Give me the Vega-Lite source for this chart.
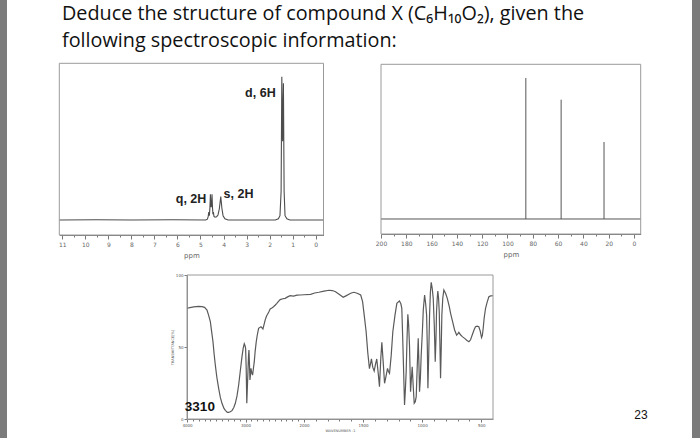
{
  "$schema": "https://vega.github.io/schema/vega-lite/v6.json",
  "width": 685,
  "height": 438,
  "autosize": {"type": "none"},
  "padding": {"left": 7, "right": 8, "top": 0, "bottom": 0},
  "background": "#7b7b7b",
  "config": {"view": {"fill": "white", "stroke": null}, "axis": {"grid": false}},
  "title": {
    "text": ["Deduce the structure of compound X (C₆H₁₀O₂), given the", "following spectroscopic information:"],
    "anchor": "start",
    "frame": "group",
    "orient": "top",
    "offset": -50.5,
    "dx": 55,
    "font": "Open Sans",
    "fontSize": 19.8,
    "fontWeight": "normal",
    "color": "#111111",
    "lineHeight": 27.2
  },
  "datasets": {
    "h1": [
      {"ppm": 11.13, "intensity": 0}, {"ppm": 9.5, "intensity": 0.2}, {"ppm": 8, "intensity": 0}, {"ppm": 6.2, "intensity": 0.2},
      {"ppm": 4.78, "intensity": 0}, {"ppm": 4.7, "intensity": 0.6}, {"ppm": 4.665, "intensity": 2.5}, {"ppm": 4.64, "intensity": 5.5},
      {"ppm": 4.615, "intensity": 3}, {"ppm": 4.59, "intensity": 9}, {"ppm": 4.57, "intensity": 17.9}, {"ppm": 4.55, "intensity": 10},
      {"ppm": 4.535, "intensity": 9}, {"ppm": 4.515, "intensity": 12}, {"ppm": 4.5, "intensity": 17.9}, {"ppm": 4.48, "intensity": 9},
      {"ppm": 4.46, "intensity": 4}, {"ppm": 4.44, "intensity": 5.5}, {"ppm": 4.415, "intensity": 2.5}, {"ppm": 4.37, "intensity": 2},
      {"ppm": 4.3, "intensity": 2.3}, {"ppm": 4.24, "intensity": 3.5}, {"ppm": 4.18, "intensity": 8}, {"ppm": 4.12, "intensity": 16.3},
      {"ppm": 4.07, "intensity": 8}, {"ppm": 4.02, "intensity": 3}, {"ppm": 3.94, "intensity": 0.8}, {"ppm": 3.8, "intensity": 0},
      {"ppm": 1.75, "intensity": 0}, {"ppm": 1.62, "intensity": 0.8}, {"ppm": 1.55, "intensity": 3}, {"ppm": 1.5, "intensity": 20},
      {"ppm": 1.47, "intensity": 100}, {"ppm": 1.435, "intensity": 55}, {"ppm": 1.4, "intensity": 95.4}, {"ppm": 1.37, "intensity": 20},
      {"ppm": 1.33, "intensity": 3}, {"ppm": 1.25, "intensity": 0.8}, {"ppm": 1.12, "intensity": 0}, {"ppm": -0.34, "intensity": 0}
    ],
    "h1labels": [
      {"label": "d, 6H", "ppm": 2.4, "intensity": 88.6},
      {"label": "q, 2H", "ppm": 5.41, "intensity": 14.7},
      {"label": "s, 2H", "ppm": 3.35, "intensity": 17.8}
    ],
    "c13": [
      {"ppm": 85.5, "intensity": 100},
      {"ppm": 57.6, "intensity": 84.6},
      {"ppm": 23.7, "intensity": 54.6}
    ],
    "ir": [
      {"wn": 4000, "T": 76.9}, {"wn": 3950, "T": 77.3}, {"wn": 3886, "T": 77.8}, {"wn": 3800, "T": 78.2}, {"wn": 3744, "T": 78},
      {"wn": 3700, "T": 77.5}, {"wn": 3658, "T": 75.7}, {"wn": 3630, "T": 72}, {"wn": 3601, "T": 67.6}, {"wn": 3580, "T": 61},
      {"wn": 3556, "T": 53.7}, {"wn": 3536, "T": 45}, {"wn": 3516, "T": 37.5}, {"wn": 3490, "T": 29}, {"wn": 3459, "T": 21.3},
      {"wn": 3430, "T": 15}, {"wn": 3402, "T": 10.9}, {"wn": 3370, "T": 7.5}, {"wn": 3345, "T": 6}, {"wn": 3310, "T": 4.6},
      {"wn": 3288, "T": 4.6}, {"wn": 3260, "T": 5}, {"wn": 3231, "T": 5.8}, {"wn": 3200, "T": 8}, {"wn": 3174, "T": 10.9},
      {"wn": 3145, "T": 16}, {"wn": 3117, "T": 23.6}, {"wn": 3090, "T": 33}, {"wn": 3060, "T": 43.3}, {"wn": 3040, "T": 49},
      {"wn": 3021, "T": 52.3}, {"wn": 3008, "T": 51}, {"wn": 2998, "T": 49}, {"wn": 2988, "T": 35}, {"wn": 2978, "T": 11},
      {"wn": 2970, "T": 20}, {"wn": 2958, "T": 33}, {"wn": 2948, "T": 44}, {"wn": 2941, "T": 47.9}, {"wn": 2932, "T": 38},
      {"wn": 2924, "T": 27.1}, {"wn": 2915, "T": 31}, {"wn": 2907, "T": 35.2}, {"wn": 2893, "T": 32}, {"wn": 2879, "T": 30.5},
      {"wn": 2868, "T": 34}, {"wn": 2850, "T": 39.8}, {"wn": 2835, "T": 47}, {"wn": 2816, "T": 53.7}, {"wn": 2800, "T": 58},
      {"wn": 2776, "T": 63}, {"wn": 2736, "T": 64.1}, {"wn": 2702, "T": 62.5}, {"wn": 2680, "T": 66}, {"wn": 2663, "T": 68.8},
      {"wn": 2640, "T": 71.5}, {"wn": 2623, "T": 72.7}, {"wn": 2600, "T": 74.5}, {"wn": 2578, "T": 76.4}, {"wn": 2550, "T": 77},
      {"wn": 2521, "T": 78}, {"wn": 2490, "T": 79.2}, {"wn": 2464, "T": 80.3}, {"wn": 2440, "T": 81.5}, {"wn": 2407, "T": 82.9},
      {"wn": 2360, "T": 83.5}, {"wn": 2322, "T": 83.8}, {"wn": 2280, "T": 84.8}, {"wn": 2236, "T": 85.6}, {"wn": 2180, "T": 85.4},
      {"wn": 2120, "T": 86}, {"wn": 2065, "T": 86.1}, {"wn": 2000, "T": 86.3}, {"wn": 1944, "T": 86.6}, {"wn": 1910, "T": 87.5},
      {"wn": 1874, "T": 88}, {"wn": 1830, "T": 88.8}, {"wn": 1789, "T": 89.4}, {"wn": 1760, "T": 89.2}, {"wn": 1733, "T": 88.4},
      {"wn": 1700, "T": 86.5}, {"wn": 1668, "T": 84.5}, {"wn": 1645, "T": 85.5}, {"wn": 1620, "T": 86.6}, {"wn": 1600, "T": 87.5},
      {"wn": 1577, "T": 88}, {"wn": 1550, "T": 87.3}, {"wn": 1520, "T": 86.1}, {"wn": 1504, "T": 81.5}, {"wn": 1490, "T": 72},
      {"wn": 1474, "T": 60.6}, {"wn": 1460, "T": 46}, {"wn": 1446, "T": 35}, {"wn": 1438, "T": 38}, {"wn": 1429, "T": 41.7},
      {"wn": 1418, "T": 36}, {"wn": 1406, "T": 33.3}, {"wn": 1395, "T": 38}, {"wn": 1384, "T": 41.7}, {"wn": 1372, "T": 32},
      {"wn": 1361, "T": 22.5}, {"wn": 1350, "T": 42}, {"wn": 1341, "T": 53.2}, {"wn": 1330, "T": 40}, {"wn": 1318, "T": 24.8},
      {"wn": 1305, "T": 30}, {"wn": 1293, "T": 35.2}, {"wn": 1285, "T": 33}, {"wn": 1276, "T": 31.7}, {"wn": 1262, "T": 44},
      {"wn": 1248, "T": 60.6}, {"wn": 1230, "T": 72}, {"wn": 1214, "T": 80.3}, {"wn": 1192, "T": 82}, {"wn": 1180, "T": 80},
      {"wn": 1172, "T": 76.9}, {"wn": 1165, "T": 58}, {"wn": 1158, "T": 37.5}, {"wn": 1149, "T": 9.7}, {"wn": 1142, "T": 20},
      {"wn": 1135, "T": 32.9}, {"wn": 1128, "T": 55}, {"wn": 1121, "T": 72.7}, {"wn": 1114, "T": 65}, {"wn": 1107, "T": 51.4},
      {"wn": 1098, "T": 19}, {"wn": 1091, "T": 28}, {"wn": 1084, "T": 36.3}, {"wn": 1075, "T": 22}, {"wn": 1067, "T": 10.9},
      {"wn": 1058, "T": 12}, {"wn": 1050, "T": 15.5}, {"wn": 1042, "T": 35}, {"wn": 1033, "T": 56}, {"wn": 1027, "T": 38},
      {"wn": 1022, "T": 19}, {"wn": 1015, "T": 28}, {"wn": 1008, "T": 44}, {"wn": 998, "T": 60.6}, {"wn": 990, "T": 76},
      {"wn": 979, "T": 86.1}, {"wn": 970, "T": 80}, {"wn": 962, "T": 72.2}, {"wn": 956, "T": 50}, {"wn": 951, "T": 21.3},
      {"wn": 944, "T": 45}, {"wn": 937, "T": 72.2}, {"wn": 930, "T": 88}, {"wn": 923, "T": 94.9}, {"wn": 915, "T": 91},
      {"wn": 906, "T": 83.8}, {"wn": 897, "T": 65}, {"wn": 889, "T": 39.8}, {"wn": 883, "T": 55}, {"wn": 878, "T": 74.5},
      {"wn": 872, "T": 84}, {"wn": 867, "T": 88.9}, {"wn": 861, "T": 84}, {"wn": 855, "T": 74.5}, {"wn": 850, "T": 55},
      {"wn": 844, "T": 28.3}, {"wn": 838, "T": 50}, {"wn": 833, "T": 72.2}, {"wn": 825, "T": 84}, {"wn": 816, "T": 89.6},
      {"wn": 800, "T": 87}, {"wn": 787, "T": 83.8}, {"wn": 770, "T": 78}, {"wn": 759, "T": 73.4}, {"wn": 740, "T": 67},
      {"wn": 725, "T": 61.8}, {"wn": 708, "T": 58.3}, {"wn": 700, "T": 59}, {"wn": 689, "T": 60.2}, {"wn": 675, "T": 58.5},
      {"wn": 660, "T": 57.2}, {"wn": 640, "T": 56}, {"wn": 620, "T": 54.5}, {"wn": 604, "T": 53.7}, {"wn": 590, "T": 55},
      {"wn": 576, "T": 58.3}, {"wn": 560, "T": 62}, {"wn": 548, "T": 64.1}, {"wn": 535, "T": 64.5}, {"wn": 520, "T": 64.1},
      {"wn": 508, "T": 61}, {"wn": 497, "T": 56.5}, {"wn": 490, "T": 58}, {"wn": 483, "T": 63}, {"wn": 475, "T": 70},
      {"wn": 463, "T": 76.9}, {"wn": 450, "T": 81}, {"wn": 435, "T": 84.9}, {"wn": 420, "T": 85.5}, {"wn": 400, "T": 85.6}
    ]
  },
  "layer": [
    {
      "data": {"name": "h1"},
      "mark": {"type": "line", "stroke": "#4d4d4d", "strokeWidth": 1.1},
      "encoding": {
        "x": {
          "field": "ppm", "type": "quantitative",
          "scale": {"domain": [11.13, -0.34], "range": [52.3, 316.5], "nice": false, "zero": false},
          "axis": {"orient": "bottom", "offset": -203, "values": [11, 10, 9, 8, 7, 6, 5, 4, 3, 2, 1, 0], "format": "d",
            "domainColor": "#777777", "tickColor": "#777777", "tickSize": 4, "labelFontSize": 6, "labelColor": "#666666",
            "labelFont": "DejaVu Sans", "labelPadding": 2, "labelFlush": false, "labelOverlap": false,
            "title": "ppm", "titleFont": "DejaVu Sans", "titleFontSize": 7, "titleFontWeight": "normal", "titleColor": "#666666", "titlePadding": 4}
        },
        "y": {"field": "intensity", "type": "quantitative", "scale": {"domain": [-10.47, 109.35], "range": [235, 63.3], "nice": false, "zero": false}, "axis": null}
      }
    },
    {
      "data": {"values": [{}]},
      "mark": {"type": "rect", "fillOpacity": 0, "stroke": "#9a9a9a", "strokeWidth": 1},
      "encoding": {
        "x": {"datum": 11.13, "type": "quantitative",
          "scale": {"domain": [11.13, -0.34], "range": [52.3, 316.5], "nice": false, "zero": false},
          "axis": {"orient": "bottom", "offset": -203, "values": [10.5, 9.5, 8.5, 7.5, 6.5, 5.5, 4.5, 3.5, 2.5, 1.5, 0.5],
            "labels": false, "domain": false, "tickSize": 2, "tickColor": "#777777", "title": null}},
        "x2": {"datum": -0.34},
        "y": {"datum": -10.47, "type": "quantitative", "scale": {"domain": [-10.47, 109.35], "range": [235, 63.3], "nice": false, "zero": false}, "axis": null},
        "y2": {"datum": 109.35}
      }
    },
    {
      "data": {"name": "h1labels"},
      "mark": {"type": "text", "font": "Liberation Sans", "fontWeight": "bold", "fontSize": 12.5, "fill": "#222222", "align": "center", "baseline": "middle"},
      "encoding": {
        "x": {"field": "ppm", "type": "quantitative", "scale": {"domain": [11.13, -0.34], "range": [52.3, 316.5], "nice": false, "zero": false}, "axis": null},
        "y": {"field": "intensity", "type": "quantitative", "scale": {"domain": [-10.47, 109.35], "range": [235, 63.3], "nice": false, "zero": false}, "axis": null},
        "text": {"field": "label"}
      }
    },
    {
      "data": {"values": [{}]},
      "mark": {"type": "rule", "stroke": "#555555", "strokeWidth": 1},
      "encoding": {
        "x": {"datum": 200, "type": "quantitative",
          "scale": {"domain": [200, -5.3], "range": [374, 633.7], "nice": false, "zero": false},
          "axis": {"orient": "bottom", "offset": -204, "values": [200, 180, 160, 140, 120, 100, 80, 60, 40, 20, 0], "format": "d",
            "domainColor": "#777777", "tickColor": "#777777", "tickSize": 4, "labelFontSize": 6, "labelColor": "#666666",
            "labelFont": "DejaVu Sans", "labelPadding": 2, "labelFlush": false, "labelOverlap": false,
            "title": "ppm", "titleFont": "DejaVu Sans", "titleFontSize": 7, "titleFontWeight": "normal", "titleColor": "#666666", "titlePadding": 4}},
        "x2": {"datum": -5.3},
        "y": {"datum": 0, "type": "quantitative", "scale": {"domain": [-10.64, 109.7], "range": [234, 64.3], "nice": false, "zero": false}, "axis": null}
      }
    },
    {
      "data": {"name": "c13"},
      "mark": {"type": "rule", "stroke": "#555555", "strokeWidth": 1},
      "encoding": {
        "x": {"field": "ppm", "type": "quantitative",
          "scale": {"domain": [200, -5.3], "range": [374, 633.7], "nice": false, "zero": false},
          "axis": {"orient": "bottom", "offset": -204, "values": [190, 170, 150, 130, 110, 90, 70, 50, 30, 10],
            "labels": false, "domain": false, "tickSize": 2, "tickColor": "#777777", "title": null}},
        "y": {"field": "intensity", "type": "quantitative", "scale": {"domain": [-10.64, 109.7], "range": [234, 64.3], "nice": false, "zero": false}, "axis": null},
        "y2": {"datum": 0}
      }
    },
    {
      "data": {"values": [{}]},
      "mark": {"type": "rect", "fillOpacity": 0, "stroke": "#9a9a9a", "strokeWidth": 1},
      "encoding": {
        "x": {"datum": 200, "type": "quantitative", "scale": {"domain": [200, -5.3], "range": [374, 633.7], "nice": false, "zero": false}, "axis": null},
        "x2": {"datum": -5.3},
        "y": {"datum": -10.64, "type": "quantitative", "scale": {"domain": [-10.64, 109.7], "range": [234, 64.3], "nice": false, "zero": false}, "axis": null},
        "y2": {"datum": 109.7}
      }
    },
    {
      "data": {"name": "ir"},
      "mark": {"type": "line", "stroke": "#5a5a5a", "strokeWidth": 1.2},
      "encoding": {
        "x": {"field": "wn", "type": "quantitative",
          "scale": {"domain": [4000, 2000, 400], "range": [180, 297, 486], "nice": false, "zero": false},
          "axis": {"orient": "bottom", "offset": -19, "values": [4000, 3000, 2000, 1500, 1000, 500], "format": "d",
            "domainColor": "#888888", "tickColor": "#777777", "tickSize": 3, "labelFontSize": 4, "labelColor": "#555555",
            "labelFont": "DejaVu Sans", "labelPadding": 1, "labelFlush": false, "labelOverlap": false,
            "title": "WAVENUMBER -1", "titleFont": "DejaVu Sans", "titleFontSize": 3.5, "titleFontWeight": "normal", "titleColor": "#555555", "titlePadding": 1}},
        "y": {"field": "T", "type": "quantitative",
          "scale": {"domain": [0, 100], "range": [419, 275], "nice": false, "zero": false},
          "axis": {"orient": "left", "offset": -180, "values": [0, 50, 100], "format": "d",
            "domainColor": "#888888", "tickColor": "#777777", "tickSize": 3, "labelFontSize": 4, "labelColor": "#555555",
            "labelFont": "DejaVu Sans", "labelPadding": 1, "labelFlush": false, "labelOverlap": false,
            "title": "TRANSMITTANCE[%]", "titleFont": "DejaVu Sans", "titleFontSize": 3.5, "titleFontWeight": "normal", "titleColor": "#555555", "titlePadding": 1}}
      }
    },
    {
      "data": {"values": [{}]},
      "mark": {"type": "rect", "fillOpacity": 0, "stroke": "#9a9a9a", "strokeWidth": 1},
      "encoding": {
        "x": {"datum": 4000, "type": "quantitative",
          "scale": {"domain": [4000, 2000, 400], "range": [180, 297, 486], "nice": false, "zero": false},
          "axis": {"orient": "bottom", "offset": -19, "values": [3900, 3800, 3700, 3600, 3500, 3400, 3300, 3200, 3100, 2900, 2800, 2700, 2600, 2500, 2400, 2300, 2200, 2100, 1900, 1800, 1700, 1600, 1400, 1300, 1200, 1100, 900, 800, 700, 600],
            "labels": false, "domain": false, "tickSize": 2, "tickColor": "#777777", "title": null}},
        "x2": {"datum": 400},
        "y": {"datum": 0, "type": "quantitative", "scale": {"domain": [0, 100], "range": [419, 275], "nice": false, "zero": false}, "axis": null},
        "y2": {"datum": 100}
      }
    },
    {
      "data": {"values": [{}]},
      "mark": {"type": "text", "font": "Liberation Sans", "fontWeight": "bold", "fontSize": 13.5, "fill": "#111111", "align": "center", "baseline": "middle"},
      "encoding": {
        "x": {"datum": 3780, "type": "quantitative", "scale": {"domain": [4000, 2000, 400], "range": [180, 297, 486], "nice": false, "zero": false}, "axis": null},
        "y": {"datum": 8.5, "type": "quantitative", "scale": {"domain": [0, 100], "range": [419, 275], "nice": false, "zero": false}, "axis": null},
        "text": {"value": "3310"}
      }
    },
    {
      "data": {"values": [{}]},
      "mark": {"type": "text", "font": "Liberation Sans", "fontSize": 12, "fill": "#111111", "align": "center", "baseline": "middle"},
      "encoding": {
        "x": {"value": 634},
        "y": {"value": 415},
        "text": {"value": "23"}
      }
    }
  ],
  "resolve": {
    "scale": {"x": "independent", "y": "independent"},
    "axis": {"x": "independent", "y": "independent"}
  }
}
